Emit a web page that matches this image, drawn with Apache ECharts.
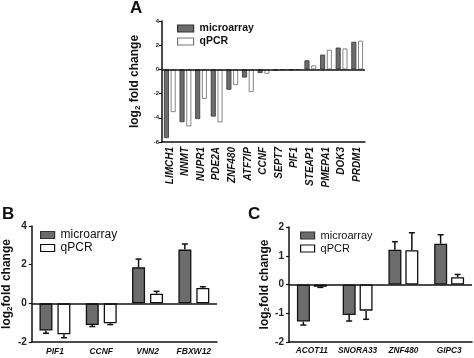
<!DOCTYPE html>
<html><head><meta charset="utf-8">
<script src="https://cdn.jsdelivr.net/npm/echarts@6/dist/echarts.min.js"></script>
<style>html,body{margin:0;padding:0;background:#fff}#c{width:474px;height:358px}</style>
</head><body><div id="c"></div>
<script>
// Panel A
const catsA = ['LIMCH1','NNMT','NUPR1','PDE2A','ZNF480','ATF7IP','CCNF','SEPT7','PIF1','STEAP1','PMEPA1','DOK3','PRDM1'];
const microA = [-5.67,-4.36,-4.10,-3.90,-1.68,-0.67,-0.30,-0.08,-0.05,0.75,1.22,1.80,2.28];
const qpcrA  = [-3.53,-4.71,-2.44,-4.38,-1.30,-1.87,-0.36,-0.03,-0.02,0.33,1.63,1.73,2.37];
const ticksA = [-6,-4,-2,0,2,4];
// Panel B
const catsB = ['PIF1','CCNF','VNN2','FBXW12'];
const microB = [-1.41,-1.12,1.86,2.78];
const microBErr = [0.14,0.08,0.43,0.29];
const qpcrB = [-1.60,-1.03,0.50,0.79];
const qpcrBErr = [0.18,0.07,0.12,0.07];
const ticksB = [-2,0,2,4];
// Panel C
const catsC = ['ACOT11','SNORA33','ZNF480','GIPC3'];
const microC = [-1.29,-1.06,1.21,1.42];
const microCErr = [0.12,0.21,0.28,0.31];
const qpcrC = [-0.08,-0.91,1.19,0.25];
const qpcrCErr = [0.02,0.30,0.61,0.10];
const ticksC = [-2,-1,0,1,2];

const FONT = '"Liberation Sans", Arial, sans-serif';
const darkFill = '#6c6c6c', darkBorder = '#333';

function errSeries(name, gi, vals, errs, offset) {
  return {
    type: 'custom', name: name + '_err', xAxisIndex: gi, yAxisIndex: gi, z: 5, silent: true,
    data: vals.map((v, i) => [i, v, v >= 0 ? v + errs[i] : v - errs[i]]),
    renderItem: function (params, api) {
      const p0 = api.coord([api.value(0), api.value(1)]);
      const p1 = api.coord([api.value(0), api.value(2)]);
      const x = p0[0] + offset;
      return { type: 'group', children: [
        { type: 'line', shape: { x1: x, y1: p0[1], x2: x, y2: p1[1] }, style: { stroke: '#111', lineWidth: 1.5 } },
        { type: 'line', shape: { x1: x - 3, y1: p1[1], x2: x + 3, y2: p1[1] }, style: { stroke: '#111', lineWidth: 1.5 } }
      ]};
    }
  };
}

function yAxis(gi, ticks, fontSize, bold, gap, nameGap, nameSize) {
  return {
    gridIndex: gi, type: 'value', min: ticks[0], max: ticks[ticks.length - 1], interval: ticks[1] - ticks[0],
    splitLine: { show: false },
    axisLine: { show: true, lineStyle: { color: '#111', width: 1.5 } },
    axisTick: { show: true, length: 3, lineStyle: { color: '#111', width: 1.2 } },
    axisLabel: { fontSize: fontSize, fontWeight: bold ? 'bold' : 'normal', color: '#222', margin: gap, fontFamily: FONT },
    name: 'log{s|2}' + (gi === 0 ? ' ' : '') + 'fold change', nameLocation: 'middle', nameGap: nameGap,
    nameTextStyle: { fontSize: nameSize, fontWeight: 'bold', color: '#111', fontFamily: FONT,
      rich: { s: { fontSize: nameSize - 4, fontWeight: 'bold', color: '#111', fontFamily: FONT, padding: [6, 0, 0, 0] } } }
  };
}

function xAxis(gi, cats, labelOpts) {
  return {
    gridIndex: gi, type: 'category', data: cats,
    axisLine: { onZero: false, lineStyle: { color: '#111', width: 1.5 } },
    axisTick: { alignWithLabel: true, length: 3, lineStyle: { color: '#111', width: 1.2 } },
    axisLabel: Object.assign({ color: '#111', fontStyle: 'italic', fontWeight: 'bold', interval: 0, fontFamily: FONT }, labelOpts)
  };
}

const zeroLine = { silent: true, symbol: 'none', label: { show: false }, lineStyle: { color: '#111', width: 1.5, type: 'solid' }, data: [{ yAxis: 0 }] };

function legend(left, top, fontSize, bold, qBorder, iw, ih, gap) {
  return {
    left: left, top: top, padding: 0, orient: 'vertical', itemWidth: iw, itemHeight: ih, itemGap: gap, icon: 'rect', selectedMode: false,
    textStyle: { fontSize: fontSize, fontWeight: bold ? 'bold' : 'normal', color: '#111', fontFamily: FONT, padding: [0, 0, 0, 1] },
    data: [
      { name: 'microarray', itemStyle: { color: darkFill, borderColor: darkBorder, borderWidth: 1.2 } },
      { name: 'qPCR', itemStyle: { color: '#fff', borderColor: qBorder, borderWidth: 1.2 } }
    ]
  };
}

const chart = echarts.init(document.getElementById('c'), null, { renderer: 'canvas' });
chart.setOption({
  animation: false,
  backgroundColor: '#fff',
  title: [
    { text: 'A', left: 130, top: 0, padding: 0, textStyle: { fontSize: 17, fontWeight: 'bold', color: '#111', fontFamily: FONT } },
    { text: 'B', left: 2, top: 206, padding: 0, textStyle: { fontSize: 17, fontWeight: 'bold', color: '#111', fontFamily: FONT } },
    { text: 'C', left: 248, top: 206, padding: 0, textStyle: { fontSize: 17, fontWeight: 'bold', color: '#111', fontFamily: FONT } }
  ],
  legend: [
    legend(177, 23, 10.5, true, '#777', 16, 7, 2),
    legend(40, 229, 12, false, '#111', 14, 7, 1),
    legend(300, 230, 11, false, '#111', 14, 7, 2)
  ],
  grid: [
    { left: 162, top: 21, width: 203, height: 121 },
    { left: 31, top: 226, width: 186, height: 116 },
    { left: 289, top: 227, width: 183, height: 115 }
  ],
  xAxis: [
    xAxis(0, catsA, { rotate: 90, fontSize: 10, margin: 5 }),
    xAxis(1, catsB, { fontSize: 8.5, margin: 5 }),
    xAxis(2, catsC, { fontSize: 8.3, margin: 5 })
  ],
  yAxis: [
    yAxis(0, ticksA, 6, true, 3, 20, 12),
    yAxis(1, ticksB, 10, true, 5, 12, 12),
    yAxis(2, ticksC, 10, true, 5, 12, 12)
  ],
  series: [
    { type: 'bar', name: 'microarray', xAxisIndex: 0, yAxisIndex: 0, data: microA, barWidth: 5, barGap: '35%',
      itemStyle: { color: darkFill, borderColor: darkBorder, borderWidth: 0.8 }, markLine: zeroLine },
    { type: 'bar', name: 'qPCR', xAxisIndex: 0, yAxisIndex: 0, data: qpcrA, barWidth: 5,
      itemStyle: { color: '#fff', borderColor: '#777', borderWidth: 0.9 } },
    { type: 'bar', name: 'microarray', xAxisIndex: 1, yAxisIndex: 1, data: microB, barWidth: 13, barGap: '38%',
      itemStyle: { color: darkFill, borderColor: '#111', borderWidth: 1.3 }, markLine: zeroLine },
    { type: 'bar', name: 'qPCR', xAxisIndex: 1, yAxisIndex: 1, data: qpcrB, barWidth: 13,
      itemStyle: { color: '#fff', borderColor: '#111', borderWidth: 1.3 } },
    { type: 'bar', name: 'microarray', xAxisIndex: 2, yAxisIndex: 2, data: microC, barWidth: 13, barGap: '30%',
      itemStyle: { color: darkFill, borderColor: '#111', borderWidth: 1.3 }, markLine: zeroLine },
    { type: 'bar', name: 'qPCR', xAxisIndex: 2, yAxisIndex: 2, data: qpcrC, barWidth: 13,
      itemStyle: { color: '#fff', borderColor: '#111', borderWidth: 1.3 } },
    errSeries('microB', 1, microB, microBErr, -9),
    errSeries('qpcrB', 1, qpcrB, qpcrBErr, 9),
    errSeries('microC', 2, microC, microCErr, -8.5),
    errSeries('qpcrC', 2, qpcrC, qpcrCErr, 8.5)
  ]
});
</script></body></html>
